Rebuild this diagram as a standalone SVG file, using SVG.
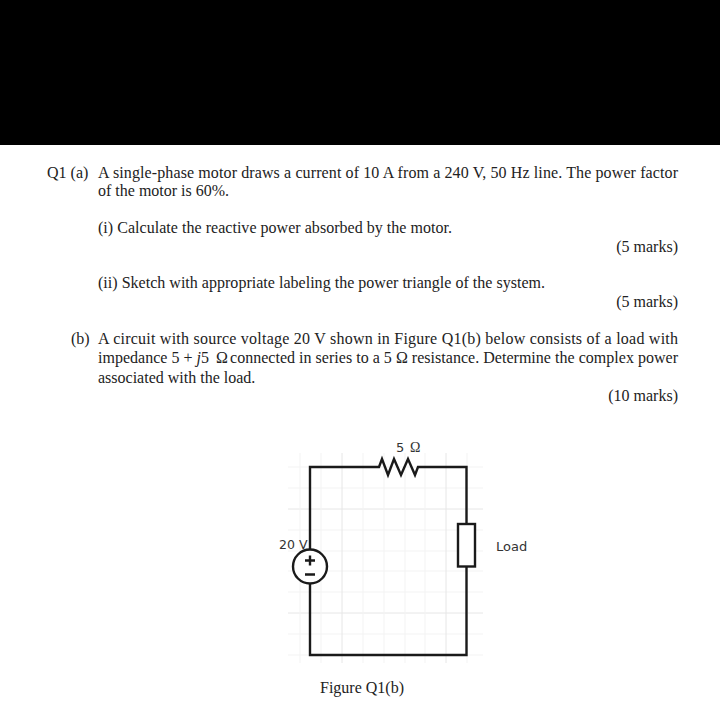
<svg xmlns="http://www.w3.org/2000/svg" width="720" height="701" viewBox="0 0 720 701">
<style>
.t{font-family:"Liberation Serif",serif;font-size:16px;fill:#222}
.s{font-family:"DejaVu Sans",sans-serif;font-size:12.500px;fill:#333}
.g{stroke:#f3f3f3;stroke-width:1;fill:none}
.G{stroke:#e6e6e6;stroke-width:1;fill:none}
.w{stroke:#1a1a1a;stroke-width:2.400;fill:none}
</style>
<rect width="720" height="701" fill="#fff"/>
<rect width="720" height="145" fill="#000"/>
<g id="question" transform="translate(0 0.600)">
<text class="t" x="47" y="177">Q1 (a)</text>
<text class="t" x="98" y="177" textLength="580">A single-phase motor draws a current of 10 A from a 240 V, 50 Hz line. The power factor</text>
<text class="t" x="98" y="195">of the motor is 60%.</text>
<text class="t" x="98" y="232" textLength="354">(i) Calculate the reactive power absorbed by the motor.</text>
<text class="t" x="678" y="251" text-anchor="end">(5 marks)</text>
<text class="t" x="98" y="287" textLength="447">(ii) Sketch with appropriate labeling the power triangle of the system.</text>
<text class="t" x="678" y="306" text-anchor="end">(5 marks)</text>
<text class="t" x="71" y="343">(b)</text>
<text class="t" x="98" y="343" textLength="580">A circuit with source voltage 20 V shown in Figure Q1(b) below consists of a load with</text>
<text class="t" x="98" y="362" textLength="111">impedance 5 + <tspan font-style="italic">j</tspan>5</text>
<text class="t" x="216" y="362">Ω</text>
<text class="t" x="230" y="362" textLength="448">connected in series to a 5 Ω resistance. Determine the complex power</text>
<text class="t" x="98" y="382">associated with the load.</text>
<text class="t" x="678" y="400" text-anchor="end">(10 marks)</text>
</g>
<g id="grid">
<path class="g" d="M288 467H483M288 488H483M288 530H483M288 551H483M288 571H483M288 592H483M288 634H483M288 655H483"/>
<path class="G" d="M288 509H483M288 613H483"/>
<path class="g" d="M300 453V663M321 453V663M363 453V663M384 453V663M405 453V663M425 453V663M467 453V663"/>
<path class="G" d="M342 453V663M446 453V663"/>
</g>
<g id="connectors">
<path class="w" d="M310 550V467H379L382 459 388 475 394 459 401 475 408 459 415 475 418 467H466.500V524M466.500 567V655H310V583"/>
</g>
<g id="source">
<circle cx="310" cy="566.500" r="17" fill="#fff" stroke="#1a1a1a" stroke-width="2.400"/>
<path d="M305 560.500H315M310 555.500V565.500M305 574.500H315" stroke="#1a1a1a" stroke-width="2.400" fill="none"/>
<text class="s" x="279" y="549">20 V</text>
</g>
<g id="resistor"><text class="s" x="396" y="452" style="font-size:13px">5</text><text class="s" x="410" y="452" style="font-family:'Liberation Serif',serif;font-size:14px">Ω</text></g>
<g id="load">
<rect x="458" y="524" width="17" height="42.500" fill="#fff" stroke="#1a1a1a" stroke-width="2.400"/>
<text class="s" x="496" y="551" style="font-size:13px">Load</text>
</g>
<text class="t" x="320" y="693">Figure Q1(b)</text>
</svg>
